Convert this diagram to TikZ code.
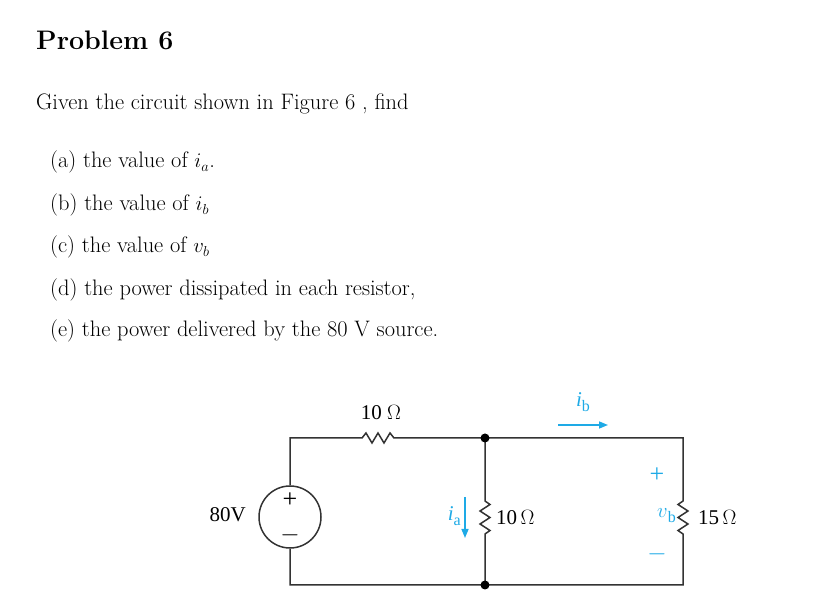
\documentclass[tikz,border=0pt]{standalone}
\usepackage{fontspec}
\newfontfamily\tf{Liberation Serif}
\usetikzlibrary{arrows.meta}
\definecolor{cy}{RGB}{30,170,230}
\begin{document}
\begin{tikzpicture}[x=1pt,y=-1pt,
  txt/.style={anchor=base west,inner sep=0pt,font=\fontsize{22.4}{26}\selectfont},
  lab/.style={inner sep=0pt,font=\tf\fontsize{21}{24}\selectfont},
  pm/.style={inner sep=0pt,font=\tf\fontsize{26}{28}\selectfont},
  wire/.style={line width=1.5pt,draw=black!80},
  dot/.style={circle,fill=black,inner sep=0pt,minimum size=9pt},
  carr/.style={cy,line width=1.5pt,-{Triangle[length=9pt,width=7pt]}}]
\useasboundingbox (0,0) rectangle (831,609);
\node[txt,font=\bfseries\fontsize{26.8}{30}\selectfont] (t) at (36,50) {Problem 6};
\node[txt] (g) at (36,110) {Given the circuit shown in Figure 6 , find};
\node[txt] (a) at (50,168) {(a) the value of $i_a$.};
\node[txt] (b) at (50,211) {(b) the value of $i_b$};
\node[txt] (c) at (50,253) {(c) the value of $v_b$};
\node[txt] (d) at (50,296) {(d) the power dissipated in each resistor,};
\node[txt] (e) at (50,337) {(e) the power delivered by the 80 V source.};
% circuit
\coordinate (tl) at (290,438); \coordinate (bl) at (290,585);
\coordinate (r1a) at (358,438); \coordinate (r1b) at (402,438);
\coordinate (tm) at (485,438); \coordinate (bm) at (485,585);
\coordinate (tr) at (683,438); \coordinate (br) at (683,585);
\node[circle,draw=black!80,line width=1.5pt,minimum size=62pt,inner sep=0pt] (src) at (290,517) {};
\draw[wire] (src.north) -- (tl) -- (r1a) -- ++(4,0) -- ++(4,-5) -- ++(6,10) -- ++(6,-10) -- ++(6,10) -- ++(6,-10) -- ++(4,5) -- (r1b) -- (tm) -- (tr)
  -- (683,497) -- ++(0,4) -- ++(-5,3.5) -- ++(10,6.5) -- ++(-10,6.5) -- ++(10,6.5) -- ++(-10,6.5) -- ++(5,3.5) -- ++(0,4) -- (br) -- (bm) -- (bl) -- (src.south);
\draw[wire] (tm) -- (485,497) -- ++(0,4) -- ++(5,3.5) -- ++(-10,6.5) -- ++(10,6.5) -- ++(-10,6.5) -- ++(10,6.5) -- ++(-5,3.5) -- ++(0,4) -- (bm);
\node[dot] (d1) at (tm) {}; \node[dot] (d2) at (bm) {};
\node[pm] (p) at (290,500) {+};
\node[pm] (m) at (290,535) {$-$};
\node[lab,anchor=east] (v) at (246,515) {80V};
\node[lab] (l1) at (381,413) {10 $\Omega$};
\node[lab,anchor=west] (l2) at (496,518) {10\,$\Omega$};
\node[lab,anchor=west] (l3) at (698,518) {15\,$\Omega$};
\coordinate (ia1) at (465,497); \coordinate (ia2) at (465,538);
\draw[carr] (ia1) -- (ia2);
\node[lab,cy,anchor=east] (ial) at (461,516) {\textit{i}\raisebox{-5pt}{\fontsize{16}{18}\selectfont a}};
\coordinate (ib1) at (558,425); \coordinate (ib2) at (608,425);
\draw[carr] (ib1) -- (ib2);
\node[lab,cy] (ibl) at (583,402) {\textit{i}\raisebox{-5pt}{\fontsize{16}{18}\selectfont b}};
\node[pm,cy] (pp) at (657,475) {+};
\node[pm,cy] (mm) at (657,554) {$-$};
\node[lab,cy,anchor=east] (vbl) at (676,516) {$v$\raisebox{-5pt}{\fontsize{16}{18}\selectfont b}};
\end{tikzpicture}
\end{document}
